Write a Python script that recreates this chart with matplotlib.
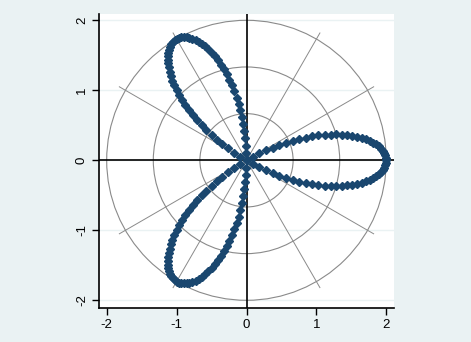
import numpy as np
import matplotlib
matplotlib.use("Agg")
import matplotlib.pyplot as plt
from matplotlib.patches import Circle

# ---- data: rose curve sampled at 1 degree steps (polar angle, radius) ----
theta_deg = list(range(0, 180))
radius = [
    2.000, 1.997, 1.989, 1.975, 1.956, 1.932, 1.902, 1.867, 1.827, 1.782,
    1.732, 1.677, 1.618, 1.554, 1.486, 1.414, 1.338, 1.259, 1.176, 1.089,
    1.000, 0.908, 0.813, 0.717, 0.618, 0.518, 0.416, 0.313, 0.209, 0.105,
    0.000, -0.105, -0.209, -0.313, -0.416, -0.518, -0.618, -0.717, -0.813, -0.908,
    -1.000, -1.089, -1.176, -1.259, -1.338, -1.414, -1.486, -1.554, -1.618, -1.677,
    -1.732, -1.782, -1.827, -1.867, -1.902, -1.932, -1.956, -1.975, -1.989, -1.997,
    -2.000, -1.997, -1.989, -1.975, -1.956, -1.932, -1.902, -1.867, -1.827, -1.782,
    -1.732, -1.677, -1.618, -1.554, -1.486, -1.414, -1.338, -1.259, -1.176, -1.089,
    -1.000, -0.908, -0.813, -0.717, -0.618, -0.518, -0.416, -0.313, -0.209, -0.105,
    0.000, 0.105, 0.209, 0.313, 0.416, 0.518, 0.618, 0.717, 0.813, 0.908,
    1.000, 1.089, 1.176, 1.259, 1.338, 1.414, 1.486, 1.554, 1.618, 1.677,
    1.732, 1.782, 1.827, 1.867, 1.902, 1.932, 1.956, 1.975, 1.989, 1.997,
    2.000, 1.997, 1.989, 1.975, 1.956, 1.932, 1.902, 1.867, 1.827, 1.782,
    1.732, 1.677, 1.618, 1.554, 1.486, 1.414, 1.338, 1.259, 1.176, 1.089,
    1.000, 0.908, 0.813, 0.717, 0.618, 0.518, 0.416, 0.313, 0.209, 0.105,
    0.000, -0.105, -0.209, -0.313, -0.416, -0.518, -0.618, -0.717, -0.813, -0.908,
    -1.000, -1.089, -1.176, -1.259, -1.338, -1.414, -1.486, -1.554, -1.618, -1.677,
    -1.732, -1.782, -1.827, -1.867, -1.902, -1.932, -1.956, -1.975, -1.989, -1.997,
]
grid_radii = [2/3, 4/3, 2.0]
spoke_angles = [30, 60, 120, 150, 210, 240, 300, 330]
spoke_length = 2.1
xticks = [-2, -1, 0, 1, 2]
yticks = [-2, -1, 0, 1, 2]

# ---- styling ----
bg = "#EAF2F3"
navy = "#1A476F"
grey = "#8A8A8A"

plt.rcParams["font.family"] = ["Liberation Sans", "DejaVu Sans"]

fig = plt.figure(figsize=(4.71, 3.42), dpi=100, facecolor=bg)
ax = fig.add_axes([99/471, 1 - 308/342, (394 - 99)/471, (308 - 14)/342])
ax.set_facecolor("white")
ax.set_xlim(-2.11, 2.11)
ax.set_ylim(-2.11, 2.09)

# horizontal grid lines
for yv in yticks:
    ax.axhline(yv, color=bg, lw=1.0, zorder=0.5)

# polar grid
for r in grid_radii:
    ax.add_patch(Circle((0, 0), r, fill=False, ec=grey, lw=0.8, zorder=1))
for a in spoke_angles:
    ar = np.deg2rad(a)
    ax.plot([0, spoke_length*np.cos(ar)], [0, spoke_length*np.sin(ar)],
            color=grey, lw=0.7, zorder=1)

# axes through the origin
ax.axhline(0, color="black", lw=1.2, zorder=2)
ax.axvline(0, color="black", lw=1.2, zorder=2)

th = np.deg2rad(np.array(theta_deg, dtype=float))
rr = np.array(radius)
ax.plot(rr*np.cos(th), rr*np.sin(th), linestyle="none", marker="D",
        markersize=4.2, color=navy, mec=navy, zorder=3)

for s in ["top", "right"]:
    ax.spines[s].set_visible(False)
for s in ["left", "bottom"]:
    ax.spines[s].set_color("black")
    ax.spines[s].set_linewidth(1.2)

ax.set_xticks(xticks)
ax.set_yticks(yticks)
ax.set_xticklabels([str(v) for v in xticks])
ax.set_yticklabels([str(v) for v in yticks], rotation=90, va="center")
ax.tick_params(axis="both", direction="out", length=5, width=1.0,
               labelsize=9.5, color="black", labelcolor="black", pad=3)

fig.savefig("out.png", dpi=100, facecolor=bg)
